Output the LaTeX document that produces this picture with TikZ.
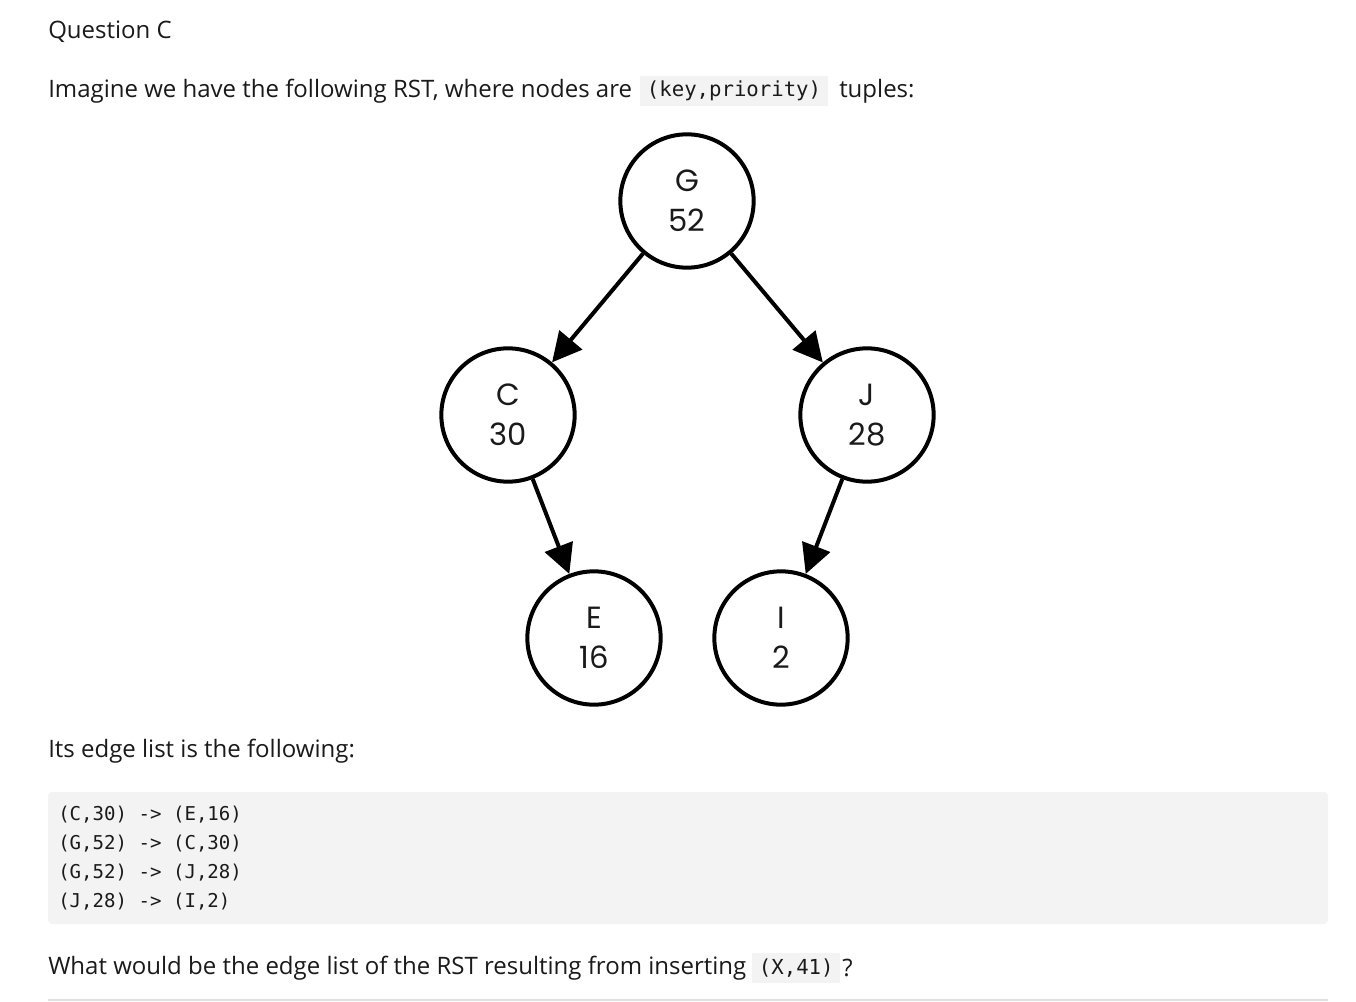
\documentclass[tikz,border=0pt]{standalone}
\usepackage{fontspec}
\setmainfont{Open Sans}
\setmonofont{DejaVu Sans Mono}
\newfontfamily\nodefont{Poppins}
\usetikzlibrary{arrows.meta}
\definecolor{codebg}{HTML}{F3F3F3}
\definecolor{txt}{HTML}{1A1A1A}
\tikzset{
 tn/.style={circle,draw,line width=3pt,minimum size=100pt,inner sep=0pt,align=center,font=\nodefont\fontsize{23}{30}\selectfont,text=txt},
 edge/.style={line width=3pt,-{Triangle[length=22pt,width=22pt]}},
 para/.style={anchor=west,inner sep=0pt,font=\fontsize{18}{20}\selectfont,text=txt},
 codel/.style={anchor=west,inner sep=0pt,font=\ttfamily\fontsize{14.3}{16}\selectfont,text=txt},
 icode/.style={fill=codebg,inner xsep=5pt,inner ysep=4pt,font=\ttfamily\fontsize{15.5}{18}\selectfont,text=txt}
}
\begin{document}
\begin{tikzpicture}[x=0.75pt,y=-0.75pt]
\useasboundingbox[fill=white] (0,0) rectangle (1356,1002);
\node[para,font=\fontsize{18}{20}\selectfont] (q) at (48,32) {Question C};
\node[para] (l1) at (48,91) {Imagine we have the following RST, where nodes are};
\node[icode,anchor=west] (kp) at (640,91) {(key,priority)};
\node[para] (l1b) at (839,91) {tuples:};
\node[tn] (G) at (687,201) {G\\52};
\node[tn] (C) at (508,415) {C\\30};
\node[tn] (J) at (867,415) {J\\28};
\node[tn] (E) at (594,638) {E\\16};
\node[tn] (I) at (781,638) {I\\2};
\draw[edge] (G) -- (C);
\draw[edge] (G) -- (J);
\draw[edge] (C) -- (E);
\draw[edge] (J) -- (I);
\node[para] (l2) at (48,751) {Its edge list is the following:};
\fill[codebg,rounded corners=3pt] (48,792) rectangle (1328,924);
\node[codel] (c1) at (58,815) {(C,30) -> (E,16)};
\node[codel] (c2) at (58,844) {(G,52) -> (C,30)};
\node[codel] (c3) at (58,873) {(G,52) -> (J,28)};
\node[codel] (c4) at (58,902) {(J,28) -> (I,2)};
\node[para] (l3) at (48,968) {What would be the edge list of the RST resulting from inserting};
\node[icode,anchor=west] (x) at (752,968) {(X,41)};
\node[para] (l3b) at (842,968) {?};
\draw[line width=1pt,black!12] (48,1000) -- (1328,1000);
\end{tikzpicture}
\end{document}
